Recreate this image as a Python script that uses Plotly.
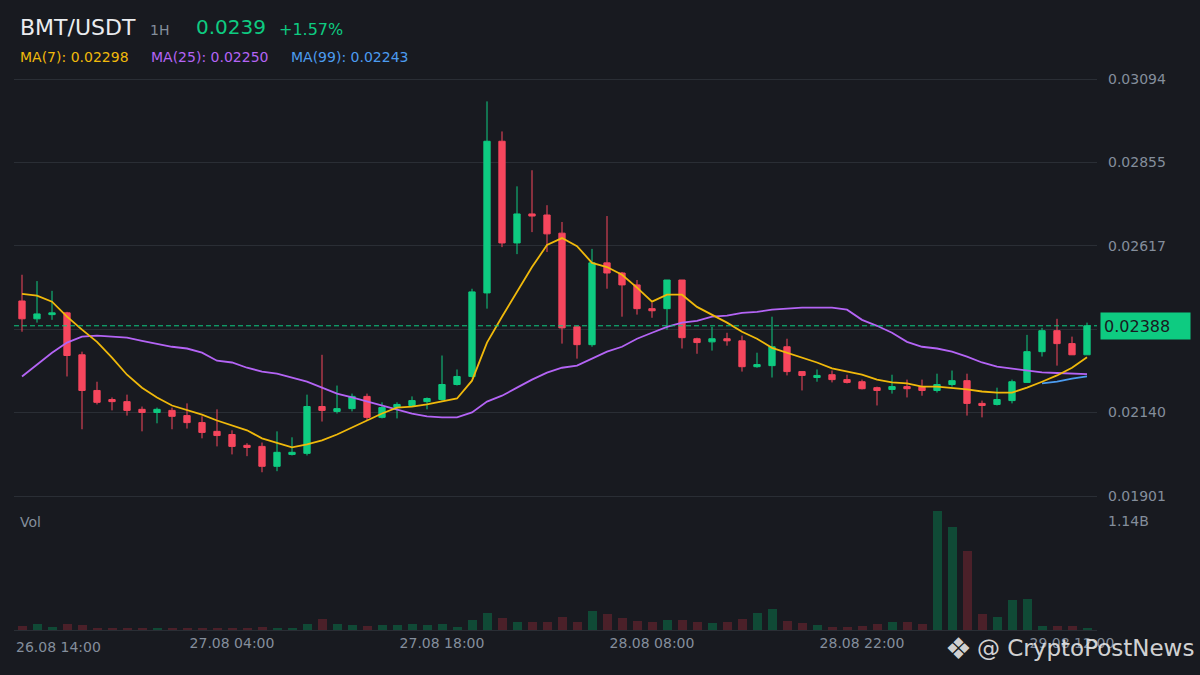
import pandas as pd
import plotly.graph_objects as go

# hourly candles, 26.08 14:00 -> 29.08 13:00
times = pd.date_range("2025-08-26 14:00", periods=72, freq="h")

open_ = [0.02459, 0.02408, 0.02420, 0.02425, 0.02305, 0.02203, 0.02177, 0.02171, 0.02149, 0.02140,
         0.02146, 0.02131, 0.02111, 0.02086, 0.02077, 0.02046, 0.02043, 0.01986, 0.02020, 0.02023,
         0.02157, 0.02143, 0.02151, 0.02186, 0.02126, 0.02154, 0.02160, 0.02171, 0.02177, 0.02220,
         0.02243, 0.02482, 0.02916, 0.02625, 0.02708, 0.02705, 0.02653, 0.02385, 0.02334, 0.02568,
         0.02539, 0.02505, 0.02437, 0.02437, 0.02519, 0.02351, 0.02342, 0.02351, 0.02345, 0.02271,
         0.02274, 0.02328, 0.02257, 0.02240, 0.02248, 0.02234, 0.02228, 0.02211, 0.02206, 0.02214,
         0.02214, 0.02203, 0.02220, 0.02231, 0.02166, 0.02163, 0.02174, 0.02226, 0.02314, 0.02374,
         0.02337, 0.02305]
high = [0.02534, 0.02516, 0.02488, 0.02428, 0.02314, 0.02228, 0.02183, 0.02191, 0.02157, 0.02154,
        0.02154, 0.02166, 0.02129, 0.02149, 0.02089, 0.02052, 0.02054, 0.02086, 0.02069, 0.02191,
        0.02305, 0.02217, 0.02194, 0.02194, 0.02169, 0.02169, 0.02186, 0.02183, 0.02303, 0.02263,
        0.02494, 0.03030, 0.02944, 0.02787, 0.02833, 0.02733, 0.02685, 0.02388, 0.02608, 0.02702,
        0.02542, 0.02519, 0.02454, 0.02519, 0.02519, 0.02354, 0.02385, 0.02368, 0.02360, 0.02311,
        0.02414, 0.02351, 0.02257, 0.02263, 0.02260, 0.02248, 0.02234, 0.02214, 0.02248, 0.02234,
        0.02234, 0.02251, 0.02260, 0.02251, 0.02174, 0.02211, 0.02234, 0.02362, 0.02382, 0.02408,
        0.02357, 0.02397]
low = [0.02371, 0.02397, 0.02405, 0.02243, 0.02092, 0.02163, 0.02146, 0.02131, 0.02086, 0.02109,
       0.02092, 0.02094, 0.02066, 0.02043, 0.02020, 0.02015, 0.01969, 0.01972, 0.02017, 0.02017,
       0.02114, 0.02137, 0.02143, 0.02117, 0.02123, 0.02123, 0.02157, 0.02149, 0.02174, 0.02217,
       0.02240, 0.02437, 0.02613, 0.02593, 0.02656, 0.02599, 0.02337, 0.02294, 0.02328, 0.02494,
       0.02414, 0.02420, 0.02411, 0.02377, 0.02323, 0.02308, 0.02317, 0.02331, 0.02257, 0.02268,
       0.02240, 0.02246, 0.02203, 0.02228, 0.02226, 0.02223, 0.02206, 0.02160, 0.02194, 0.02183,
       0.02188, 0.02197, 0.02214, 0.02131, 0.02126, 0.02160, 0.02166, 0.02226, 0.02300, 0.02274,
       0.02305, 0.02305]
close = [0.02408, 0.02422, 0.02425, 0.02303, 0.02203, 0.02169, 0.02171, 0.02146, 0.02140, 0.02149,
         0.02129, 0.02111, 0.02083, 0.02074, 0.02043, 0.02040, 0.01986, 0.02026, 0.02026, 0.02157,
         0.02146, 0.02151, 0.02186, 0.02126, 0.02154, 0.02163, 0.02174, 0.02180, 0.02220, 0.02243,
         0.02485, 0.02916, 0.02625, 0.02708, 0.02702, 0.02651, 0.02382, 0.02334, 0.02568, 0.02539,
         0.02505, 0.02437, 0.02431, 0.02519, 0.02354, 0.02340, 0.02351, 0.02345, 0.02271, 0.02277,
         0.02328, 0.02257, 0.02246, 0.02246, 0.02234, 0.02226, 0.02208, 0.02203, 0.02214, 0.02208,
         0.02203, 0.02220, 0.02231, 0.02166, 0.02160, 0.02177, 0.02228, 0.02314, 0.02374, 0.02337,
         0.02305, 0.02388]

# volume in millions
volume = [42, 63, 32, 63, 53, 21, 11, 21, 21, 21, 11, 11, 11, 21, 21, 11, 32, 21, 21, 63,
          116, 63, 53, 42, 53, 53, 63, 53, 63, 32, 105, 179, 126, 84, 84, 84, 137, 84, 200, 168,
          126, 95, 84, 105, 105, 84, 74, 84, 116, 179, 221, 95, 74, 53, 32, 32, 42, 63, 84, 84,
          63, 1240, 1082, 830, 168, 137, 315, 326, 42, 42, 42, 21]

ma7 = [0.02479, 0.02474, 0.02457, 0.02414, 0.02377, 0.02342, 0.02297, 0.02248, 0.02211, 0.02183,
       0.02160, 0.02146, 0.02134, 0.02117, 0.02103, 0.02089, 0.02066, 0.02052, 0.02040, 0.02049,
       0.02060, 0.02077, 0.02097, 0.02117, 0.02137, 0.02154, 0.02157, 0.02163, 0.02171, 0.02180,
       0.02231, 0.02340, 0.02414, 0.02485, 0.02556, 0.02619, 0.02639, 0.02616, 0.02568, 0.02556,
       0.02534, 0.02497, 0.02457, 0.02477, 0.02477, 0.02442, 0.02420, 0.02397, 0.02371, 0.02351,
       0.02325, 0.02311, 0.02297, 0.02283, 0.02266, 0.02257, 0.02248, 0.02234, 0.02226, 0.02223,
       0.02214, 0.02214, 0.02211, 0.02206, 0.02200, 0.02197, 0.02197, 0.02211, 0.02228, 0.02246,
       0.02268, 0.02298]
ma25 = [0.02243, 0.02277, 0.02311, 0.02340, 0.02357, 0.02360, 0.02357, 0.02354, 0.02345, 0.02337,
        0.02328, 0.02323, 0.02311, 0.02288, 0.02283, 0.02268, 0.02257, 0.02251, 0.02240, 0.02228,
        0.02211, 0.02194, 0.02183, 0.02171, 0.02160, 0.02149, 0.02137, 0.02129, 0.02126, 0.02126,
        0.02140, 0.02171, 0.02188, 0.02211, 0.02234, 0.02254, 0.02268, 0.02274, 0.02294, 0.02314,
        0.02328, 0.02351, 0.02368, 0.02385, 0.02397, 0.02402, 0.02414, 0.02417, 0.02425, 0.02428,
        0.02434, 0.02437, 0.02440, 0.02440, 0.02440, 0.02434, 0.02405, 0.02388, 0.02368, 0.02342,
        0.02328, 0.02323, 0.02314, 0.02300, 0.02283, 0.02271, 0.02266, 0.02260, 0.02255, 0.02253,
        0.02252, 0.02250]
ma99 = [None] * 68 + [0.02223, 0.02228, 0.02237, 0.02243]

price_ticks = [0.01901, 0.02140, 0.02378, 0.02617, 0.02855, 0.03094]
price_labels = ["0.01901", "0.02140", "", "0.02617", "0.02855", "0.03094"]
time_ticks = [14, 28, 42, 56, 70]
last_price = 0.02388

BG = "#181a20"
GRID = "#2a2e35"
TXT = "#848e9c"
UP = "#0ecb81"
DOWN = "#f6465d"
FONT = "DejaVu Sans"

vol_colors = ["#104a36" if c >= o else "#4b2029" for o, c in zip(open_, close)]

fig = go.Figure()

fig.add_trace(go.Candlestick(
    x=times, open=open_, high=high, low=low, close=close,
    increasing=dict(line=dict(color=UP, width=1), fillcolor=UP),
    decreasing=dict(line=dict(color=DOWN, width=1), fillcolor=DOWN),
    whiskerwidth=0, showlegend=False, xaxis="x", yaxis="y",
))
fig.add_trace(go.Scatter(x=times, y=ma25, mode="lines", line=dict(color="#b464f5", width=1.8),
                         showlegend=False, xaxis="x", yaxis="y"))
fig.add_trace(go.Scatter(x=times, y=ma99, mode="lines", line=dict(color="#4c9cf0", width=1.8),
                         showlegend=False, xaxis="x", yaxis="y"))
fig.add_trace(go.Scatter(x=times, y=ma7, mode="lines", line=dict(color="#f0b90b", width=1.8),
                         showlegend=False, xaxis="x", yaxis="y"))

fig.add_trace(go.Bar(x=times, y=[v * 1e6 for v in volume], marker_color=vol_colors,
                     marker_line_width=0, width=0.6 * 3600 * 1000,
                     showlegend=False, xaxis="x2", yaxis="y2"))

x_range = [times[0] - pd.Timedelta(minutes=32), times[-1] + pd.Timedelta(minutes=40)]

fig.update_layout(
    width=1200, height=675,
    margin=dict(l=14, r=103, t=0, b=0, autoexpand=False),
    paper_bgcolor=BG, plot_bgcolor=BG,
    font=dict(family=FONT, color=TXT, size=14),
    boxgap=0.4,
    xaxis=dict(domain=[0, 1], range=x_range, anchor="y", showgrid=False, showticklabels=False,
               zeroline=False, automargin=False, rangeslider=dict(visible=False), matches="x2"),
    xaxis2=dict(domain=[0, 1], range=x_range, anchor="y2", showgrid=False, zeroline=False,
                automargin=False, showline=True, linecolor=GRID, linewidth=1, ticks="",
                tickvals=[times[i] for i in time_ticks],
                ticktext=[times[i].strftime("%d.%m %H:%M") for i in time_ticks],
                tickfont=dict(size=14, color=TXT)),
    yaxis=dict(domain=[175 / 675, 605 / 675], range=[0.018896, 0.031198], side="right",
               tickvals=price_ticks, ticktext=price_labels, showgrid=True, gridcolor=GRID,
               gridwidth=1, zeroline=False, automargin=False, ticklabelstandoff=10,
               tickfont=dict(size=14, color=TXT)),
    yaxis2=dict(domain=[45 / 675, 170 / 675], range=[0, 1.307e9], side="right",
                tickvals=[1.14e9], ticktext=["1.14B"], showgrid=False, zeroline=False,
                automargin=False, ticklabelstandoff=10, tickfont=dict(size=14, color=TXT)),
    bargap=0,
)

# current price line and tag
fig.add_shape(type="line", xref="paper", yref="y", x0=0, x1=1, y0=last_price, y1=last_price,
              line=dict(color=UP, width=1, dash="5px,3px"))
fig.add_annotation(xref="paper", yref="y", x=1.0026, y=last_price, xanchor="left", yanchor="middle",
                   text=f"{last_price:.5f}", showarrow=False, bgcolor=UP, width=83, height=20,
                   borderpad=3, align="left", font=dict(size=16, color="#181a20"))

# first time label sits left-aligned at the pane edge
fig.add_annotation(xref="paper", yref="paper", x=0, y=1 - 647 / 675, xanchor="left", yanchor="middle",
                   text=times[0].strftime("%d.%m %H:%M"), showarrow=False, font=dict(size=14, color=TXT))

# header
header = [
    (18, 27, "BMT/USDT", 22, "#eaecef"),
    (148, 30, "1H", 14, TXT),
    (194, 27, "0.0239", 20, UP),
    (277, 29, "+1.57%", 16, UP),
    (18, 57, "MA(7): 0.02298", 14, "#f0b90b"),
    (149, 57, "MA(25): 0.02250", 14, "#b464f5"),
    (289, 57, "MA(99): 0.02243", 14, "#4c9cf0"),
    (18, 522, "Vol", 14, TXT),
]
for px, py, txt, size, col in header:
    fig.add_annotation(xref="paper", yref="paper", x=(px - 14) / 1083, y=1 - py / 675,
                       xanchor="left", yanchor="middle", text=txt, showarrow=False,
                       font=dict(size=size, color=col))

# watermark: logo + handle
fig.add_annotation(xref="paper", yref="paper", x=(958 - 14) / 1083, y=1 - 648 / 675,
                   xanchor="center", yanchor="middle", text="❖", showarrow=False,
                   font=dict(size=30, color="rgba(235,235,235,0.9)"))
fig.add_annotation(xref="paper", yref="paper", x=(975 - 14) / 1083, y=1 - 648 / 675,
                   xanchor="left", yanchor="middle", text="@ CryptoPostNews", showarrow=False,
                   font=dict(size=23, color="rgba(235,235,235,0.9)"))

fig.write_html("out.html", config={"displayModeBar": False},
               post_script="document.body.style.margin='0';")
